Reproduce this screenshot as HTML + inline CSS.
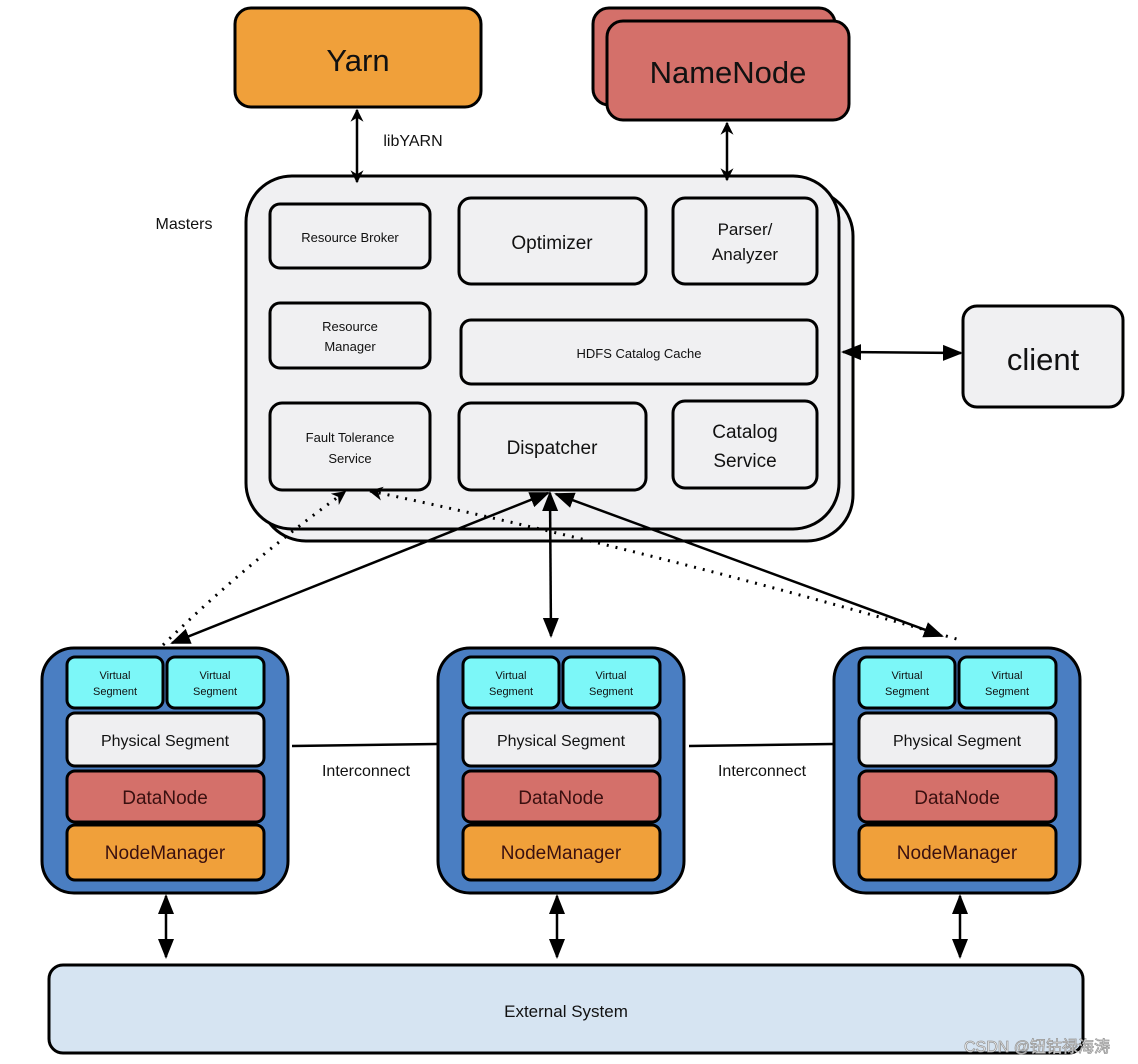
<!DOCTYPE html>
<html><head><meta charset="utf-8"><style>
html,body{margin:0;padding:0;background:#fff;width:1138px;height:1064px;overflow:hidden}
svg text{font-family:"Liberation Sans","Noto Sans CJK SC",sans-serif;fill:#111;text-anchor:middle}
</style></head><body>
<svg width="1138" height="1064" viewBox="0 0 1138 1064" xmlns="http://www.w3.org/2000/svg">
<defs>
<marker id="ah" viewBox="0 0 10 10" refX="9" refY="5" markerWidth="15" markerHeight="13" orient="auto-start-reverse" markerUnits="userSpaceOnUse"><path d="M0,0 L10,5 L0,10 L3,5 z" fill="#000"/></marker>
<marker id="ab" viewBox="0 0 10 10" refX="9" refY="5" markerWidth="20" markerHeight="20" orient="auto-start-reverse" markerUnits="userSpaceOnUse"><path d="M0,1 L10,5 L0,9 z" fill="#000"/></marker>
<marker id="ad" viewBox="0 0 10 10" refX="9" refY="5" markerWidth="14" markerHeight="14" orient="auto-start-reverse" markerUnits="userSpaceOnUse"><path d="M0,0 L10,5 L0,10 L3,5 z" fill="#000"/></marker>
</defs>
<g stroke="#000" stroke-width="3">
<rect x="235" y="8" width="246" height="99" rx="16" fill="#f0a03a"/>
<rect x="593" y="8" width="242" height="97" rx="16" fill="#d4706a"/>
<rect x="607" y="21" width="242" height="99" rx="16" fill="#d4706a"/>
<rect x="260" y="190" width="593" height="351" rx="46" fill="#f0f0f2"/>
<rect x="246" y="176" width="593" height="353" rx="46" fill="#f0f0f2"/>
<rect x="270" y="204" width="160" height="64" rx="10" fill="#f0f0f2"/>
<rect x="459" y="198" width="187" height="86" rx="12" fill="#f0f0f2"/>
<rect x="673" y="198" width="144" height="86" rx="12" fill="#f0f0f2"/>
<rect x="270" y="303" width="160" height="65" rx="10" fill="#f0f0f2"/>
<rect x="461" y="320" width="356" height="64" rx="10" fill="#f0f0f2"/>
<rect x="270" y="403" width="160" height="87" rx="12" fill="#f0f0f2"/>
<rect x="459" y="403" width="187" height="87" rx="12" fill="#f0f0f2"/>
<rect x="673" y="401" width="144" height="87" rx="12" fill="#f0f0f2"/>
<rect x="963" y="306" width="160" height="101" rx="14" fill="#f0f0f2"/>
<rect x="49" y="965" width="1034" height="88" rx="14" fill="#d6e4f2"/>
</g>
<g id="seg" stroke="#000" stroke-width="3">
<rect x="42" y="648" width="246" height="245" rx="32" fill="#4a7ec2"/>
<rect x="67" y="657" width="96" height="51" rx="8" fill="#7cf7f8"/>
<rect x="167" y="657" width="97" height="51" rx="8" fill="#7cf7f8"/>
<rect x="67" y="713" width="197" height="53" rx="8" fill="#efeff1"/>
<rect x="67" y="771" width="197" height="51" rx="8" fill="#d4706a"/>
<rect x="67" y="825" width="197" height="55" rx="8" fill="#f0a03a"/>
</g>
<use href="#seg" x="396"/>
<use href="#seg" x="792"/>
<g font-size="11" stroke="none">
<text x="115" y="679">Virtual</text><text x="115" y="695">Segment</text>
<text x="215" y="679">Virtual</text><text x="215" y="695">Segment</text>
<text x="511" y="679">Virtual</text><text x="511" y="695">Segment</text>
<text x="611" y="679">Virtual</text><text x="611" y="695">Segment</text>
<text x="907" y="679">Virtual</text><text x="907" y="695">Segment</text>
<text x="1007" y="679">Virtual</text><text x="1007" y="695">Segment</text>
</g>
<g font-size="16">
<text x="165" y="746">Physical Segment</text><text x="561" y="746">Physical Segment</text><text x="957" y="746">Physical Segment</text>
</g>
<g font-size="19">
<text x="165" y="804" style="fill:#3a1010">DataNode</text><text x="561" y="804" style="fill:#3a1010">DataNode</text><text x="957" y="804" style="fill:#3a1010">DataNode</text>
<text x="165" y="859" style="fill:#3a1010">NodeManager</text><text x="561" y="859" style="fill:#3a1010">NodeManager</text><text x="957" y="859" style="fill:#3a1010">NodeManager</text>
</g>
<g stroke="#000" stroke-width="2.5" fill="none">
<line x1="292" y1="746" x2="437" y2="744"/>
<line x1="689" y1="746" x2="833" y2="744"/>
<line x1="357" y1="110" x2="357" y2="182" marker-start="url(#ah)" marker-end="url(#ah)"/>
<line x1="727" y1="123" x2="727" y2="180" marker-start="url(#ah)" marker-end="url(#ah)"/>
<line x1="843" y1="352" x2="961" y2="353" marker-start="url(#ab)" marker-end="url(#ab)"/>
<line x1="166" y1="896" x2="166" y2="957" marker-start="url(#ab)" marker-end="url(#ab)"/>
<line x1="557" y1="896" x2="557" y2="957" marker-start="url(#ab)" marker-end="url(#ab)"/>
<line x1="960" y1="896" x2="960" y2="957" marker-start="url(#ab)" marker-end="url(#ab)"/>
<line x1="548" y1="493" x2="172" y2="643" marker-start="url(#ab)" marker-end="url(#ab)"/>
<line x1="550" y1="493" x2="551" y2="636" marker-start="url(#ab)" marker-end="url(#ab)"/>
<line x1="556" y1="494" x2="942" y2="636" marker-start="url(#ab)" marker-end="url(#ab)"/>
<path d="M163,645 Q250,560 345,492" stroke-dasharray="2,7" stroke-width="3" marker-end="url(#ad)"/>
<path d="M370,491 Q650,550 960,640" stroke-dasharray="2,7" stroke-width="3" marker-start="url(#ad)"/>
</g>
<text x="358" y="71" font-size="31">Yarn</text>
<text x="728" y="83" font-size="31">NameNode</text>
<text x="413" y="146" font-size="16">libYARN</text>
<text x="184" y="229" font-size="16">Masters</text>
<text x="350" y="242" font-size="13">Resource Broker</text>
<text x="552" y="249" font-size="19">Optimizer</text>
<text x="745" y="235" font-size="17">Parser/</text>
<text x="745" y="260" font-size="17">Analyzer</text>
<text x="350" y="331" font-size="13">Resource</text>
<text x="350" y="351" font-size="13">Manager</text>
<text x="639" y="358" font-size="13">HDFS Catalog Cache</text>
<text x="350" y="442" font-size="13">Fault Tolerance</text>
<text x="350" y="463" font-size="13">Service</text>
<text x="552" y="454" font-size="19">Dispatcher</text>
<text x="745" y="438" font-size="19">Catalog</text>
<text x="745" y="467" font-size="19">Service</text>
<text x="1043" y="370" font-size="31">client</text>
<text x="366" y="776" font-size="16">Interconnect</text>
<text x="762" y="776" font-size="16">Interconnect</text>
<text x="566" y="1017" font-size="17">External System</text>
<text x="1037" y="1052" font-size="16" style="fill:#ffffff;stroke:#999;stroke-width:0.8">CSDN @钮钴禄海涛</text>
</svg>
</body></html>
